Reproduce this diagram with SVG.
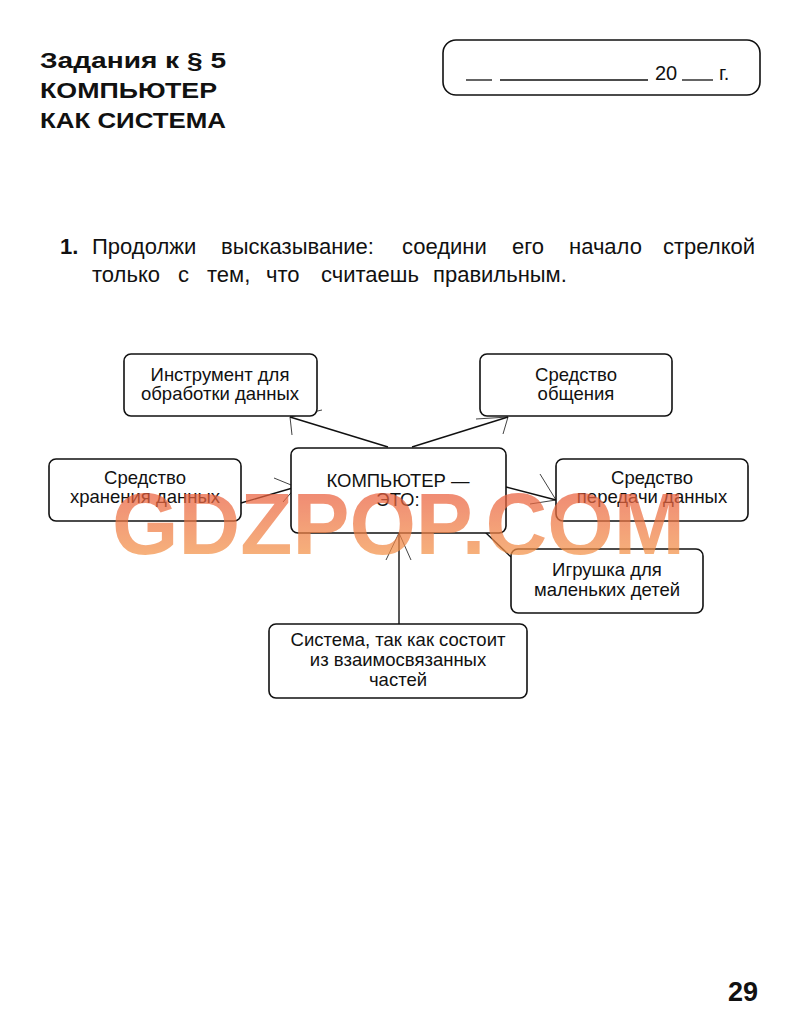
<svg xmlns="http://www.w3.org/2000/svg" width="802" height="1033" viewBox="0 0 802 1033">
<defs>
<style>
.t{font-family:"Liberation Sans",Arial,sans-serif;fill:#111}
.h{font-size:22px;font-weight:bold}
.b{font-size:22px}
.n{font-size:18.5px;text-anchor:middle}
.box{fill:#fff;stroke:#111;stroke-width:1.6}
.c{stroke:#111;stroke-width:1.4;fill:none}
.k{stroke:#111;stroke-width:0.8;fill:none}
</style>
<linearGradient id="wm" x1="0" y1="0" x2="0" y2="1">
<stop offset="0" stop-color="#e8503c"/>
<stop offset="1" stop-color="#f6a24c"/>
</linearGradient>
</defs>
<rect width="802" height="1033" fill="#fff"/>
<g id="header">
<text class="t h" x="40" y="68" textLength="186" lengthAdjust="spacingAndGlyphs">Задания  к  § 5</text>
<text class="t h" x="40" y="98" textLength="177" lengthAdjust="spacingAndGlyphs">КОМПЬЮТЕР</text>
<text class="t h" x="40" y="128" textLength="186" lengthAdjust="spacingAndGlyphs">КАК  СИСТЕМА</text>
</g>
<g id="date">
<rect x="443" y="40" width="317" height="55" rx="13" fill="none" stroke="#111" stroke-width="1.6"/>
<line x1="466" y1="80" x2="492" y2="80" stroke="#111" stroke-width="1.3"/>
<line x1="500" y1="80" x2="648" y2="80" stroke="#111" stroke-width="1.3"/>
<text class="t" x="655" y="80" font-size="20">20</text>
<line x1="682" y1="80" x2="713" y2="80" stroke="#111" stroke-width="1.3"/>
<text class="t" x="719" y="80" font-size="20">г.</text>
</g>
<g id="task">
<text class="t b" x="60" y="254" font-weight="bold">1.</text>
<text class="t b" y="254"><tspan x="92">Продолжи</tspan><tspan x="221">высказывание:</tspan><tspan x="402">соедини</tspan><tspan x="512">его</tspan><tspan x="569">начало</tspan><tspan x="663">стрелкой</tspan></text>
<text class="t b" y="282"><tspan x="92">только</tspan><tspan x="178">с</tspan><tspan x="207">тем,</tspan><tspan x="266">что</tspan><tspan x="321">считаешь</tspan><tspan x="433">правильным.</tspan></text>
</g>
<g id="connectors">
<line class="c" x1="388" y1="447" x2="290" y2="417"/>
<line class="k" x1="290" y1="417" x2="322" y2="410"/>
<line class="k" x1="290" y1="417" x2="292" y2="435"/>
<line class="c" x1="412" y1="447" x2="508" y2="417"/>
<line class="k" x1="508" y1="417" x2="476" y2="419"/>
<line class="k" x1="508" y1="417" x2="503" y2="434"/>
<line class="c" x1="241" y1="503" x2="296" y2="487"/>
<line class="k" x1="296" y1="487" x2="274" y2="478"/>
<line class="k" x1="296" y1="487" x2="283" y2="502"/>
<line class="c" x1="506" y1="487" x2="556" y2="500"/>
<line class="k" x1="556" y1="500" x2="540" y2="474"/>
<line class="k" x1="556" y1="500" x2="530" y2="504"/>
<line class="c" x1="399" y1="624" x2="399" y2="533"/>
<line class="k" x1="399" y1="533" x2="386" y2="560"/>
<line class="k" x1="399" y1="533" x2="411" y2="560"/>
<line class="c" x1="485" y1="532" x2="511" y2="557"/>
</g>
<g id="node-instrument">
<rect class="box" x="124" y="354" width="193" height="62" rx="7"/>
<text class="t n" x="220" y="381">Инструмент для</text>
<text class="t n" x="220" y="400">обработки данных</text>
</g>
<g id="node-obshcheniya">
<rect class="box" x="480" y="354" width="192" height="62" rx="7"/>
<text class="t n" x="576" y="381">Средство</text>
<text class="t n" x="576" y="400">общения</text>
</g>
<g id="node-khraneniya">
<rect class="box" x="49" y="459" width="192" height="62" rx="7"/>
<text class="t n" x="145" y="484">Средство</text>
<text class="t n" x="145" y="503">хранения данных</text>
</g>
<g id="node-computer">
<rect class="box" x="291" y="448" width="215" height="85" rx="7"/>
<text class="t n" x="398" y="487">КОМПЬЮТЕР —</text>
<text class="t n" x="398" y="506">ЭТО:</text>
</g>
<g id="node-peredachi">
<rect class="box" x="556" y="459" width="192" height="62" rx="7"/>
<text class="t n" x="652" y="484">Средство</text>
<text class="t n" x="652" y="503">передачи данных</text>
</g>
<g id="node-igrushka">
<rect class="box" x="511" y="549" width="192" height="64" rx="7"/>
<text class="t n" x="607" y="576">Игрушка для</text>
<text class="t n" x="607" y="596">маленьких детей</text>
</g>
<g id="node-sistema">
<rect class="box" x="269" y="624" width="258" height="74" rx="7"/>
<text class="t n" x="398" y="646">Система, так как состоит</text>
<text class="t n" x="398" y="666">из взаимосвязанных</text>
<text class="t n" x="398" y="686">частей</text>
</g>
<text x="112" y="554" font-family="Liberation Sans,Arial,sans-serif" font-size="88" font-weight="bold" fill="url(#wm)" opacity="0.72" textLength="573" lengthAdjust="spacingAndGlyphs">GDZPOP.COM</text>
<text class="t" x="728" y="1001" font-size="27" font-weight="bold">29</text>
</svg>
